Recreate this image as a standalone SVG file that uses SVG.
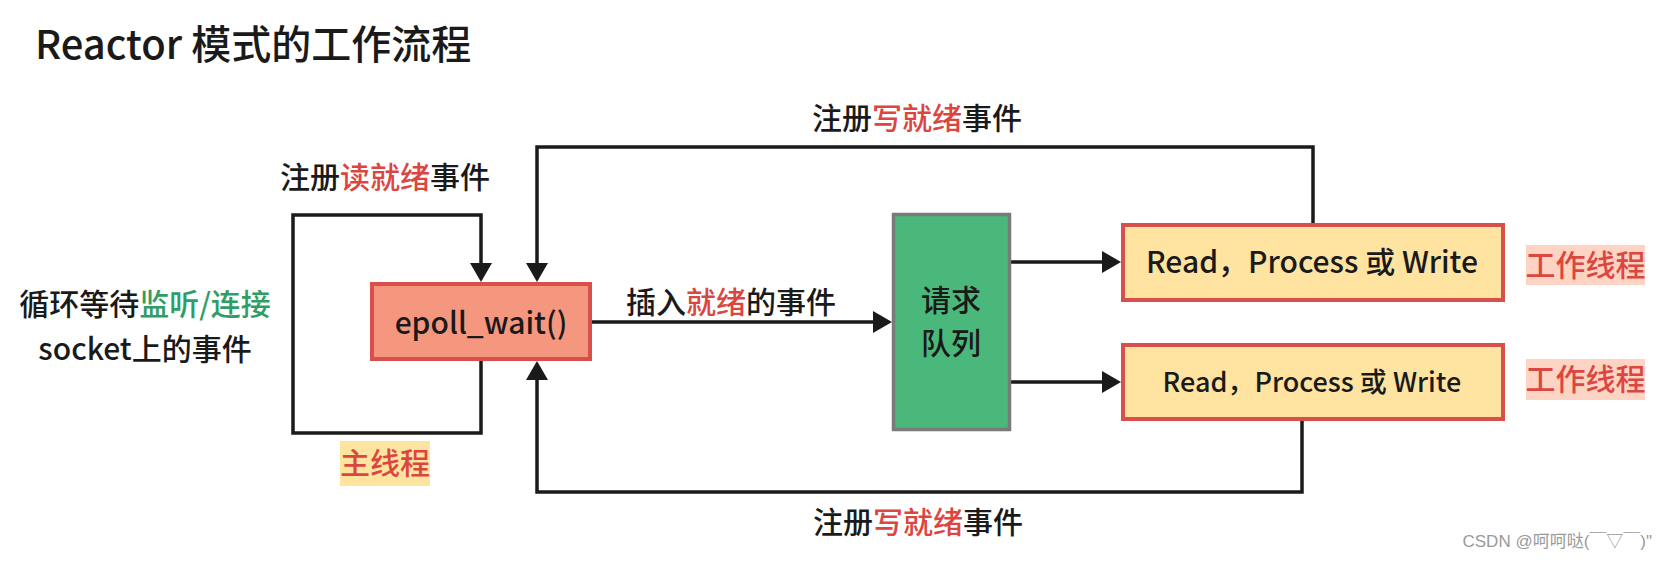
<svg xmlns="http://www.w3.org/2000/svg" width="1671" height="563" viewBox="0 0 1671 563">
<style>
text{font-family:"Noto Sans CJK SC","Noto Sans",sans-serif;fill:#1a1a1a;font-weight:500}
.lbl{font-size:30px;text-anchor:middle}
.red{fill:#dc4640}
.grn{fill:#2f9e64}
.ln{fill:none;stroke:#1a1a1a;stroke-width:3.5}
</style>
<defs>
<marker id="ah" markerUnits="userSpaceOnUse" markerWidth="20" markerHeight="22" viewBox="0 0 20 22" refX="2" refY="11" orient="auto">
<path d="M0,0 L19,11 L0,22 z" fill="#1a1a1a"/>
</marker>
</defs>
<rect width="1671" height="563" fill="#ffffff"/>
<text x="35" y="59" font-size="40">Reactor 模式的工作流程</text>

<g id="connectors">
<path class="ln" d="M481,361 V433 H293 V215 H481 V265" marker-end="url(#ah)"/>
<path class="ln" d="M1313,223 V147 H537 V265" marker-end="url(#ah)"/>
<path class="ln" d="M1302,421 V492 H537 V378" marker-end="url(#ah)"/>
<path class="ln" d="M592,322 H875" marker-end="url(#ah)"/>
<path class="ln" d="M1011,262 H1104" marker-end="url(#ah)"/>
<path class="ln" d="M1011,382 H1104" marker-end="url(#ah)"/>
</g>

<g id="label-read">
<text class="lbl" x="385" y="188">注册<tspan class="red">读就绪</tspan>事件</text>
</g>
<g id="label-loop">
<text class="lbl" x="145" y="315">循环等待<tspan class="grn">监听/连接</tspan></text>
<text class="lbl" x="145" y="360">socket上的事件</text>
</g>
<g id="label-main">
<rect x="340" y="441" width="90" height="45" fill="#fde5a0"/>
<text class="lbl red" x="385" y="474">主线程</text>
</g>
<g id="label-write-top">
<text class="lbl" x="917" y="129">注册<tspan class="red">写就绪</tspan>事件</text>
</g>
<g id="label-write-bottom">
<text class="lbl" x="918" y="533">注册<tspan class="red">写就绪</tspan>事件</text>
</g>
<g id="label-insert">
<text class="lbl" x="731" y="313">插入<tspan class="red">就绪</tspan>的事件</text>
</g>

<g id="epoll">
<rect x="372" y="284" width="218" height="75" fill="#f5977e" stroke="#d9504a" stroke-width="4"/>
<text x="481" y="334" font-size="30" text-anchor="middle">epoll_wait()</text>
</g>

<g id="queue">
<rect x="893.5" y="214.5" width="116" height="215" fill="#4ab87a" stroke="#7a7a7a" stroke-width="3.5"/>
<text class="lbl" x="951" y="311">请求</text>
<text class="lbl" x="951" y="354">队列</text>
</g>

<g id="worker1">
<rect x="1123" y="225" width="380" height="75" fill="#fee3a1" stroke="#d9504a" stroke-width="4"/>
<text x="1312" y="273" font-size="30" text-anchor="middle">Read，Process 或 Write</text>
</g>
<g id="worker2">
<rect x="1123" y="345" width="380" height="74" fill="#fee3a1" stroke="#d9504a" stroke-width="4"/>
<text x="1312" y="392" font-size="27" text-anchor="middle">Read，Process 或 Write</text>
</g>

<g id="label-worker1">
<rect x="1526" y="245" width="119" height="40" fill="#fdd3c3"/>
<text class="lbl red" x="1585.5" y="276">工作线程</text>
</g>
<g id="label-worker2">
<rect x="1526" y="359" width="119" height="41" fill="#fdd3c3"/>
<text class="lbl red" x="1585.5" y="390">工作线程</text>
</g>

<text x="1652" y="547" font-size="17" text-anchor="end" style="font-family:'Liberation Sans','Noto Sans CJK SC',sans-serif;fill:#9a9a9a;font-weight:400">CSDN @呵呵哒(￣▽￣)"</text>
</svg>
